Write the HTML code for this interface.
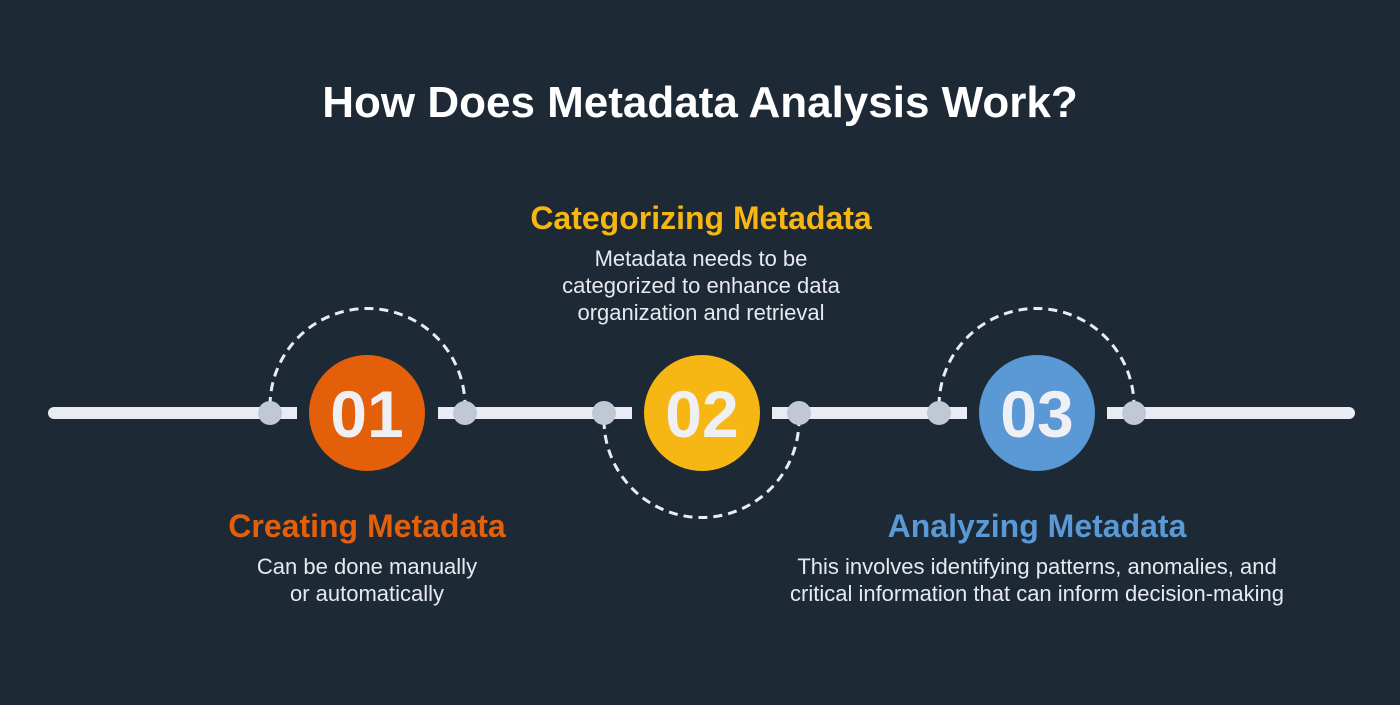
<!DOCTYPE html>
<html><head><meta charset="utf-8"><style>
body{margin:0;width:1400px;height:700px;background:#1e2936;overflow:hidden;font-family:"Liberation Sans",Arial,sans-serif}
</style></head><body>
<svg width="1400" height="700" viewBox="0 0 1400 700" xmlns="http://www.w3.org/2000/svg">
<rect width="1400" height="700" fill="#1e2936"/>
<text x="700" y="117" text-anchor="middle" font-family="Liberation Sans, sans-serif" font-weight="bold" font-size="44" fill="#ffffff">How Does Metadata Analysis Work?</text>
<g stroke="#e9edf3" stroke-width="12" stroke-linecap="butt">
<line x1="54" y1="413" x2="297" y2="413"/>
<line x1="438" y1="413" x2="632" y2="413"/>
<line x1="772" y1="413" x2="967" y2="413"/>
<line x1="1107" y1="413" x2="1349" y2="413"/>
</g>
<circle cx="54" cy="413" r="6" fill="#e9edf3"/>
<circle cx="1349" cy="413" r="6" fill="#e9edf3"/>
<g fill="none" stroke="#e9edf3" stroke-width="3" stroke-dasharray="9 6">
<path d="M270 406 A97 97 0 0 1 465 406"/>
<path d="M604 420 A97 97 0 0 0 799 420"/>
<path d="M939 406 A97 97 0 0 1 1134 406"/>
</g>
<g fill="#c0c9d3">
<circle cx="270" cy="413" r="12"/><circle cx="465" cy="413" r="12"/>
<circle cx="604" cy="413" r="12"/><circle cx="799" cy="413" r="12"/>
<circle cx="939" cy="413" r="12"/><circle cx="1134" cy="413" r="12"/>
</g>
<circle cx="367" cy="413" r="58" fill="#e35f0a"/>
<circle cx="702" cy="413" r="58" fill="#f6b714"/>
<circle cx="1037" cy="413" r="58" fill="#5a98d6"/>
<g font-family="Liberation Sans, sans-serif" font-weight="bold" font-size="66" fill="#eef0f4" text-anchor="middle">
<text x="367" y="437">01</text><text x="702" y="437">02</text><text x="1037" y="437">03</text>
</g>
<g font-family="Liberation Sans, sans-serif" font-weight="bold" font-size="32" text-anchor="middle">
<text x="701" y="229" fill="#f6b714">Categorizing Metadata</text>
<text x="367" y="537" fill="#e35f0a">Creating Metadata</text>
<text x="1037" y="537" fill="#5a98d6">Analyzing Metadata</text>
</g>
<g font-family="Liberation Sans, sans-serif" font-size="22" fill="#e6e9ee" text-anchor="middle">
<text x="701" y="266">Metadata needs to be</text>
<text x="701" y="293">categorized to enhance data</text>
<text x="701" y="320">organization and retrieval</text>
<text x="367" y="574">Can be done manually</text>
<text x="367" y="601">or automatically</text>
<text x="1037" y="574">This involves identifying patterns, anomalies, and</text>
<text x="1037" y="601">critical information that can inform decision-making</text>
</g>
</svg>
</body></html>
